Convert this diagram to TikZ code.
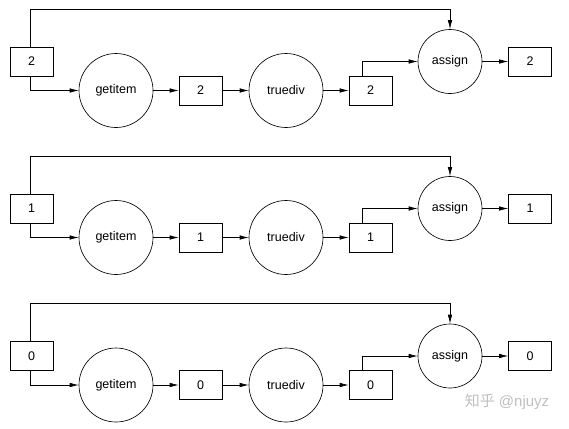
\documentclass[tikz,border=0pt]{standalone}
\usepackage{fontspec}
\setmainfont{Liberation Sans}
\newfontfamily\cjk{Noto Sans CJK SC}
\usetikzlibrary{arrows.meta}

\tikzset{
  val/.style={draw, minimum width=43pt, minimum height=29pt, inner sep=0pt},
  op/.style={draw, circle, minimum size=74pt, inner sep=0pt},
  opsmall/.style={draw, circle, minimum size=64pt, inner sep=0pt},
  flow/.style={-{Latex[length=9pt,width=4.5pt]}}
}

\begin{document}
\begin{tikzpicture}[x=1pt, y=-1pt, line width=0.65pt, font=\fontsize{12.5}{14}\selectfont]
  \useasboundingbox (0,0) rectangle (569,428);

  \foreach \v/\dy in {2/0, 1/147, 0/294.5}
    {
      \node [val] (in\v) at (31.5, 61.5+\dy) {\v};
      \node [op] (get\v) at (116, 90.5+\dy) {getitem};
      \node [val] (mid\v) at (200.5, 90.5+\dy) {\v};
      \node [op] (div\v) at (286, 90.5+\dy) {truediv};
      \node [val] (res\v) at (370.5, 90.5+\dy) {\v};
      \node [opsmall] (asg\v) at (450, 61.5+\dy) {assign};
      \node [val] (out\v) at (530, 61.5+\dy) {\v};
      \coordinate (top\v) at (30, 9+\dy);

      \draw [flow] ([xshift=-1.5pt]in\v.south) |- (get\v.west);
      \draw [flow] (get\v) -- (mid\v);
      \draw [flow] (mid\v) -- (div\v);
      \draw [flow] (div\v) -- (res\v);
      \draw [flow] ([xshift=-8.5pt]res\v.north) |- (asg\v.west);
      \draw [flow] (asg\v) -- (out\v);
      \draw [flow] ([xshift=-1.5pt]in\v.north) -- (top\v) -| (asg\v.north);
    }

  \node [text=black!25, font=\fontsize{15}{17}\selectfont] (mark) at (507, 402) {{\cjk 知乎} @njuyz};
\end{tikzpicture}
\end{document}
